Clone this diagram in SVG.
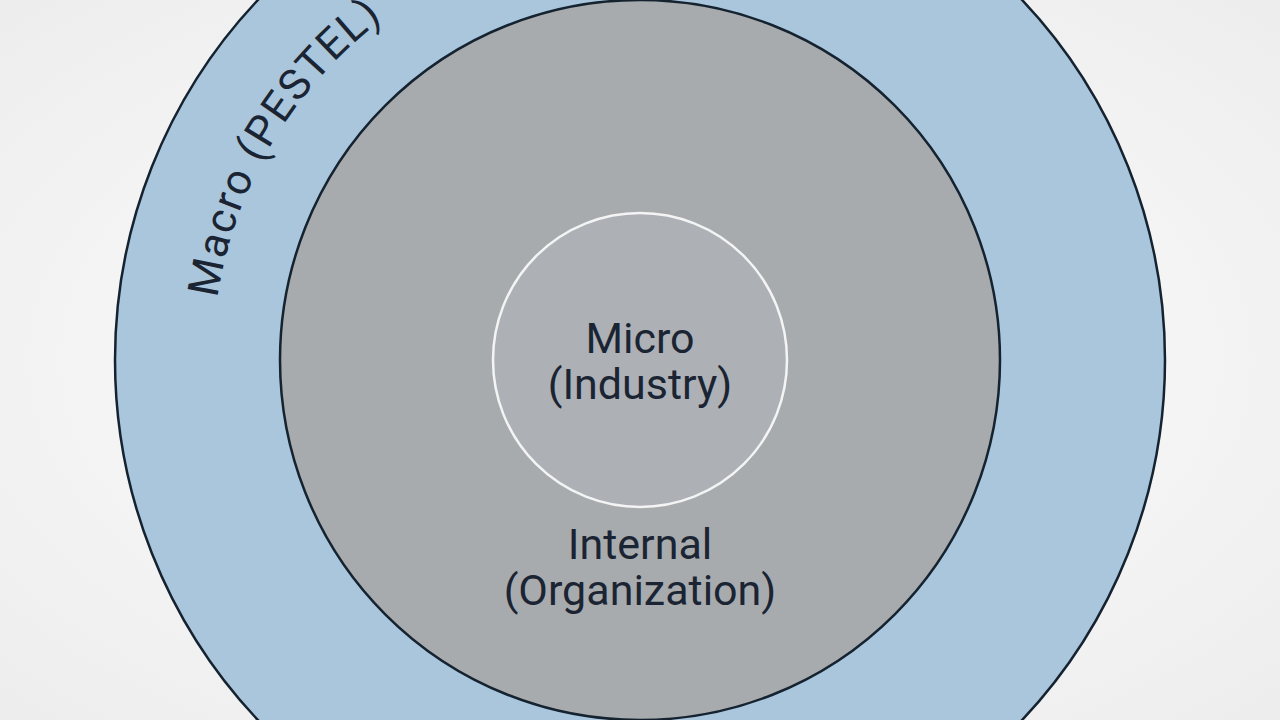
<svg xmlns="http://www.w3.org/2000/svg" width="1280" height="720" viewBox="0 0 1280 720">
<defs>
<radialGradient id="bg" cx="50%" cy="50%" r="70%"><stop offset="0" stop-color="#ffffff"/><stop offset="1" stop-color="#ededee"/></radialGradient>
<path id="arc" d="M 213 360 A 427 427 0 0 1 1067 360"/>
<style>
.lbl{font-family:Roboto,"Liberation Sans",sans-serif;fill:#1b2433;font-size:43px}
</style>
</defs>
<rect width="1280" height="720" fill="url(#bg)"/>
<g id="macro">
<circle cx="640" cy="360" r="525" fill="#a9c6dc" stroke="#15222f" stroke-width="2.5"/>
<text class="lbl" font-size="46" letter-spacing="1.5"><textPath href="#arc" startOffset="62">Macro (PESTEL)</textPath></text>
</g>
<g id="internal">
<circle cx="640" cy="360" r="360" fill="#a8abae" stroke="#15222f" stroke-width="2.5"/>
<text class="lbl" x="640" y="559" text-anchor="middle">Internal</text>
<text class="lbl" x="640" y="605" text-anchor="middle">(Organization)</text>
</g>
<g id="micro">
<circle cx="640" cy="360" r="147" fill="#adb1b6" stroke="#f4f4f4" stroke-width="2.5"/>
<text class="lbl" x="640" y="353" text-anchor="middle">Micro</text>
<text class="lbl" x="640" y="399" text-anchor="middle">(Industry)</text>
</g>
<g id="connectors"/>
</svg>
